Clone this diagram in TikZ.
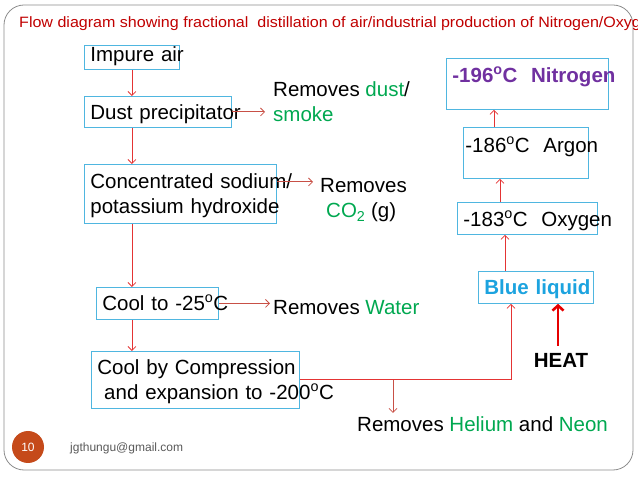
\documentclass[tikz,border=0pt]{standalone}
\usepackage{fontspec}
\setmainfont{Liberation Sans}
\newfontfamily\headfont{Liberation Sans}[FakeStretch=1.07]
\usetikzlibrary{arrows.meta}
\definecolor{boxblue}{RGB}{79,182,224}
\definecolor{flowred}{RGB}{228,52,52}
\definecolor{sidered}{RGB}{200,80,70}
\definecolor{heatred}{RGB}{230,0,0}
\definecolor{grn}{RGB}{0,168,80}
\definecolor{purp}{RGB}{112,48,160}
\definecolor{liquid}{RGB}{28,163,223}
\definecolor{titlered}{RGB}{192,0,0}
\definecolor{framegray}{RGB}{140,140,140}
\definecolor{pagered}{RGB}{197,74,26}
\definecolor{mailgray}{RGB}{89,89,89}
\tikzstyle{stage} = [draw=boxblue, line width=0.8pt, anchor=north west, inner xsep=6pt, inner ysep=0pt, align=left]
\tikzstyle{note} = [anchor=base west, inner sep=0pt, align=left]
\tikzstyle{arrow} = [draw=flowred, line width=0.8pt, -{Straight Barb[length=4pt,width=8pt]}]
\tikzstyle{sidearrow} = [draw=sidered, line width=0.8pt, -{Straight Barb[length=4pt,width=8pt]}]

\begin{document}
\begin{tikzpicture}[x=1pt,y=-1pt,font=\fontsize{20.5}{25}\selectfont]
\useasboundingbox (0,0) rectangle (638,478);
\draw[framegray, line width=0.8pt, rounded corners=20pt] (4,5) rectangle (633,470);

% heading
\node[note, text=titlered, font=\headfont\fontsize{15}{17}\selectfont] (title) at (19,28) {Flow diagram showing fractional\ \ distillation of air/industrial production of Nitrogen/Oxyg};

% purification steps
\node[stage, text width=83pt, text height=16pt, text depth=8pt] (air) at (84,45) {\mbox{Impure air}};
\node[stage, text width=135pt, text height=23pt, text depth=8pt] (dust) at (84,96) {\mbox{Dust precipitator}};
\node[stage, text width=180pt, text height=24pt, text depth=35pt] (conc) at (84,164) {\mbox{Concentrated sodium/}\\\mbox{potassium hydroxide}};
\node[stage, text width=110pt, text height=23pt, text depth=9pt] (cool) at (96,287) {\mbox{Cool to -25\textsuperscript{o}C}};
\node[stage, text width=196pt, text height=23pt, text depth=34pt] (comp) at (91,351) {\mbox{Cool by Compression}\\\mbox{\ and expansion to -200\textsuperscript{o}C}};

% what each step takes out
\node[note] (rmdust) at (273,122) {Removes \textcolor{grn}{dust}/\\\textcolor{grn}{smoke}};
\node[note] (rmco2) at (320,218) {Removes\\\hspace*{6pt}\textcolor{grn}{CO\textsubscript{2}} (g)};
\node[note] (rmwater) at (273,315) {Removes \textcolor{grn}{Water}};
\node[note] (rmhe) at (357,432) {Removes \textcolor{grn}{Helium} and \textcolor{grn}{Neon}};
\coordinate (split) at (393,0);

% fractions
\node[stage, text width=103pt, text height=23pt, text depth=9pt, text=liquid, font=\fontsize{20.5}{25}\selectfont\bfseries] (blue) at (478,271) {\mbox{Blue liquid}};
\node[stage, text width=128pt, text height=24pt, text depth=8pt] (oxy) at (457,202) {\mbox{-183\textsuperscript{o}C\ \ Oxygen}};
\node[stage, inner xsep=2pt, text width=121pt, text height=25pt, text depth=26pt] (argon) at (463,127) {\mbox{-186\textsuperscript{o}C\ \ Argon}};
\node[stage, text width=150pt, text height=24pt, text depth=27pt, text=purp, font=\fontsize{20.5}{25}\selectfont\bfseries] (nitro) at (446,58) {\mbox{-196\textsuperscript{o}C\ \ Nitrogen}};
\node[anchor=base, inner sep=0pt, font=\fontsize{20.5}{25}\selectfont\bfseries] (heat) at (561,368) {HEAT};

\draw[arrow] (air.south) -- (dust.north -| air.south);
\draw[arrow] (dust.south -| air.south) -- (conc.north -| air.south);
\draw[arrow] (conc.south -| air.south) -- (cool.north -| air.south);
\draw[arrow] (cool.south -| air.south) -- (comp.north -| air.south);
\draw[sidearrow, shorten >=8pt] (dust.east) -- (dust.east -| rmdust.west);
\draw[sidearrow, shorten >=7pt] ([yshift=12pt]conc.east) -- ([yshift=12pt]conc.east -| rmco2.west);
\draw[sidearrow, shorten >=3pt] (cool.east) -- (cool.east -| rmwater.west);
\draw[arrow] (comp.east) -| ([xshift=33pt]blue.south west);
\draw[sidearrow, shorten >=4pt] (comp.east -| split) -- (split |- rmhe.north);
\draw[arrow] ([xshift=27pt]blue.north west) -- ([xshift=27pt]blue.north west |- oxy.south);
\draw[arrow] ([xshift=43pt]oxy.north west) -- ([xshift=43pt]oxy.north west |- argon.south);
\draw[arrow] ([xshift=31pt]argon.north west) -- ([xshift=31pt]argon.north west |- nitro.south);
\draw[draw=heatred, line width=2.6pt, -{Straight Barb[length=5pt,width=11pt]}] ([xshift=-3pt,yshift=8pt]heat.north) -- ([xshift=-3pt]heat.north |- blue.south);

% footer
\node[circle, fill=pagered, text=white, minimum size=32pt, inner sep=0pt, font=\fontsize{12}{14}\selectfont] (pgno) at (28,447) {10};
\node[note, text=mailgray, font=\fontsize{12}{14}\selectfont] (mail) at (70,452) {jgthungu@gmail.com};
\end{tikzpicture}
\end{document}
